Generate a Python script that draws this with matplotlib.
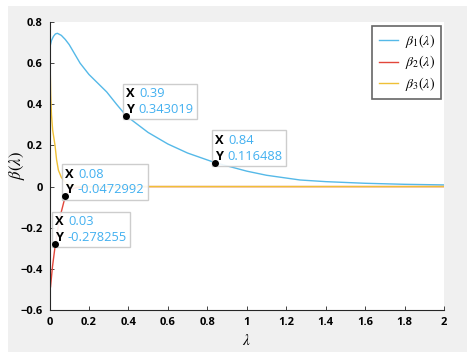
import numpy as np
import matplotlib
matplotlib.use('Agg')
import matplotlib.pyplot as plt
from matplotlib.patches import Rectangle
from matplotlib.offsetbox import TextArea, HPacker, VPacker, AnnotationBbox

# values
lam1 = [0, 0.01, 0.02, 0.03, 0.04, 0.06, 0.08, 0.1, 0.155, 0.2, 0.29, 0.34, 0.39,
        0.5, 0.6, 0.7, 0.84, 1.0, 1.1, 1.27, 1.4, 1.6, 1.8, 2.0]
beta1 = [0.67, 0.71, 0.73, 0.742, 0.745, 0.735, 0.715, 0.69, 0.6, 0.545, 0.46, 0.4, 0.343,
         0.263, 0.207, 0.163, 0.116, 0.075, 0.055, 0.032, 0.024, 0.016, 0.011, 0.008]

lam2 = [0, 0.005, 0.015, 0.03, 0.05, 0.08, 0.1, 0.13, 0.2, 2.0]
beta2 = [-0.40, -0.49, -0.39, -0.278, -0.16, -0.047, -0.02, -0.006, 0.0, 0.0]

lam3 = [0, 0.003, 0.006, 0.01, 0.016, 0.028, 0.036, 0.045, 0.06, 0.08, 0.1, 0.15, 0.2, 2.0]
beta3 = [0.785, 0.6, 0.45, 0.35, 0.275, 0.2, 0.13, 0.08, 0.045, 0.02, 0.008, 0.001, 0.0, 0.0]

tip_x = [0.39, 0.84, 0.08, 0.03]
tip_y = [0.343019, 0.116488, -0.0472992, -0.278255]

plt.rcParams['font.family'] = ['Open Sans', 'DejaVu Sans']
plt.rcParams['mathtext.fontset'] = 'stix'

fig = plt.figure(figsize=(4.74, 3.61), dpi=100)
fig.patch.set_facecolor('white')
fig.patches.append(Rectangle((8/474, 1-352/361), 459/474, 346/361, transform=fig.transFigure,
                             facecolor='#f0f0f0', edgecolor='none', zorder=-10))

ax = fig.add_axes([49.5/474, 1-310/361, 394.5/474, 288/361])
ax.set_facecolor('white')

ax.plot(lam1, beta1, color='#55b9e8', lw=1.0, label=r'$\beta_1(\lambda)$')
ax.plot(lam2, beta2, color='#e2463a', lw=1.0, label=r'$\beta_2(\lambda)$')
ax.plot(lam3, beta3, color='#efc036', lw=1.0, label=r'$\beta_3(\lambda)$')

ax.set_xlim(0, 2)
ax.set_ylim(-0.6, 0.8)
ax.set_xticks(np.arange(0, 2.01, 0.2))
ax.set_yticks(np.arange(-0.6, 0.81, 0.2))
ax.set_xticklabels(['0', '0.2', '0.4', '0.6', '0.8', '1', '1.2', '1.4', '1.6', '1.8', '2'])
ax.set_yticklabels(['\u22120.6', '\u22120.4', '\u22120.2', '0', '0.2', '0.4', '0.6', '0.8'])
ax.tick_params(direction='in', length=3, width=0.6, colors='#262626', labelsize=8, pad=5)
for t in ax.get_xticklabels() + ax.get_yticklabels():
    t.set_fontweight('bold')
    t.set_color('black')
for s in ['top', 'right']:
    ax.spines[s].set_visible(False)
for s in ['left', 'bottom']:
    ax.spines[s].set_color('#262626')
    ax.spines[s].set_linewidth(0.8)

ax.set_xlabel(r'$\lambda$', fontsize=11)
ax.set_ylabel(r'$\beta(\lambda)$', fontsize=12)
ax.xaxis.set_label_coords(0.5, -0.085)
ax.yaxis.set_label_coords(-0.058, 0.5)

leg = ax.legend(loc='upper right', bbox_to_anchor=(0.993, 0.987), fontsize=10, fancybox=False,
                handlelength=1.4, borderpad=0.45, labelspacing=0.25, handletextpad=0.5,
                borderaxespad=0)
leg.get_frame().set_edgecolor('#404040')
leg.get_frame().set_linewidth(1.2)

# data tips
for x, y in zip(tip_x, tip_y):
    ax.plot(x, y, 'o', color='black', ms=4, zorder=6)
    rows = []
    for lab, val in (('X', x), ('Y', y)):
        rows.append(HPacker(children=[
            TextArea(lab, textprops=dict(color='black', fontweight='bold', size=9.3)),
            TextArea(f'{val:.6g}', textprops=dict(color='#42b0f0', size=9.3))],
            pad=0, sep=3, align='baseline'))
    box = VPacker(children=rows, pad=0, sep=2, align='left')
    ab = AnnotationBbox(box, (x, y), xybox=(0, 0), xycoords='data', boxcoords='offset points',
                        box_alignment=(0, 0), pad=0.25, frameon=True,
                        bboxprops=dict(facecolor='white', edgecolor='#c8c8c8', alpha=0.9, lw=1.0))
    ab.set_zorder(5)
    ax.add_artist(ab)

fig.savefig('out.png', dpi=100)
